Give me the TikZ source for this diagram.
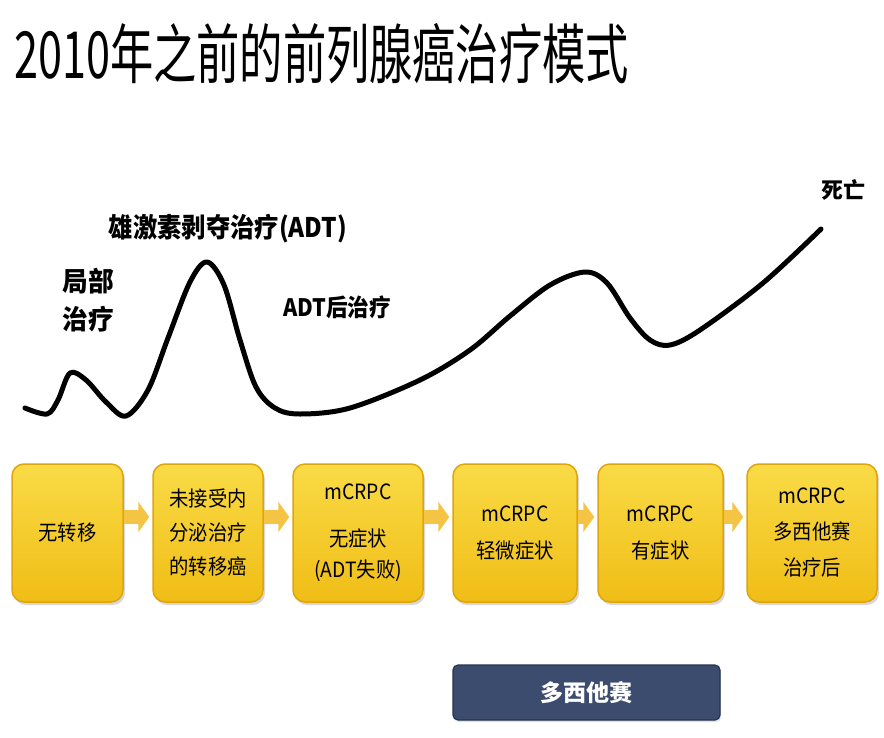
\documentclass[tikz,border=0pt]{standalone}
\usepackage{fontspec}
\setmainfont{Noto Sans CJK SC}
\usetikzlibrary{shadows,arrows.meta}
\definecolor{boxtop}{HTML}{F9DB46}
\definecolor{boxbot}{HTML}{F0BD16}
\definecolor{boxline}{HTML}{E0A40E}
\definecolor{arrowcol}{HTML}{F5C445}
\definecolor{navy}{HTML}{3C4C6E}
\definecolor{navyline}{HTML}{25324F}
\newcommand{\nar}[1]{\scalebox{0.92}[1]{#1}}
\begin{document}
\begin{tikzpicture}[x=1pt,y=-1pt,
  stage/.style={draw=boxline, line width=1.5pt, rounded corners=12pt,
    top color=boxtop, bottom color=boxbot, minimum height=138pt,
    align=center, inner sep=0pt,
    font=\fontsize{21}{34}\selectfont,
    drop shadow={shadow xshift=2pt, shadow yshift=-3pt, opacity=0.25, fill=black!60}},
  flow/.style={draw=arrowcol, line width=14pt, -{Triangle[width=30pt,length=11pt]}, shorten >=3pt},
  lbl/.style={font=\fontsize{27}{38}\selectfont\bfseries, align=center, inner sep=0pt},
  curve/.style={line width=5pt, line cap=round, line join=round, black}
]
\useasboundingbox (0,0) rectangle (884,737);
\fill[white] (0,0) rectangle (884,737);

% title
\node[anchor=west, inner sep=0pt] (title) at (14,54)
  {\scalebox{0.665}[1]{\fontsize{65}{72}\selectfont 2010年之前的前列腺癌治疗模式}};

% curve
\draw[curve] plot[smooth, tension=0.55] coordinates {
  (25,408) (47,414) (58,400) (70,373) (86,380) (106,402) (126,416)
  (148,390) (168,338) (190,282) (207,262) (224,285) (240,340) (256,387)
  (275,408) (300,414) (350,408) (420,380) (470,350) (510,316) (550,285)
  (585,272) (607,283) (630,318) (650,340) (670,345) (700,330) (763,283) (821,229)};

% curve labels
\node[lbl] (local) at (88,300) {\scalebox{0.95}[1]{局部}\\\scalebox{0.95}[1]{治疗}};
\node[lbl] (adt) at (228,229) {\scalebox{0.9}[1]{雄激素剥夺治疗(ADT)}};
\node[lbl, font=\fontsize{24}{30}\selectfont\bfseries] (post) at (337,307) {\scalebox{0.9}[1]{ADT后治疗}};
\node[lbl, font=\fontsize{22}{30}\selectfont\bfseries] (death) at (843,190) {死亡};

% stage boxes
\node[stage, minimum width=111pt] (b1) at (67.5,533) {\nar{无转移}};
\node[stage, minimum width=110pt] (b2) at (208,533) {\nar{未接受内}\\\nar{分泌治疗}\\\nar{的转移癌}};
\node[stage, minimum width=130pt, font=\fontsize{21}{31}\selectfont] (b3) at (358,533) {\nar{mCRPC}\\[16pt]\nar{无症状}\\\nar{(ADT失败)}};
\node[stage, minimum width=124pt, font=\fontsize{21}{37}\selectfont] (b4) at (515,533) {\nar{mCRPC}\\\nar{轻微症状}};
\node[stage, minimum width=125pt, font=\fontsize{21}{37}\selectfont] (b5) at (660.5,533) {\nar{mCRPC}\\\nar{有症状}};
\node[stage, minimum width=130pt, font=\fontsize{21}{36}\selectfont] (b6) at (812,533) {\nar{mCRPC}\\\nar{多西他赛}\\\nar{治疗后}};

% arrows
\foreach \a/\b in {b1/b2,b2/b3,b3/b4,b4/b5,b5/b6}
  \draw[flow] ([yshift=16pt]\a.east) -- ([yshift=16pt]\b.west);

% docetaxel bar
\node[draw=navyline, line width=1.2pt, fill=navy, rounded corners=5pt,
  minimum width=267pt, minimum height=55pt, inner sep=0pt,
  text=white, font=\fontsize{23}{26}\selectfont\bfseries,
  drop shadow={shadow xshift=1pt, shadow yshift=-2pt, opacity=0.2, fill=black!60}]
  (doce) at (586.5,692.5) {多西他赛};
\end{tikzpicture}
\end{document}
